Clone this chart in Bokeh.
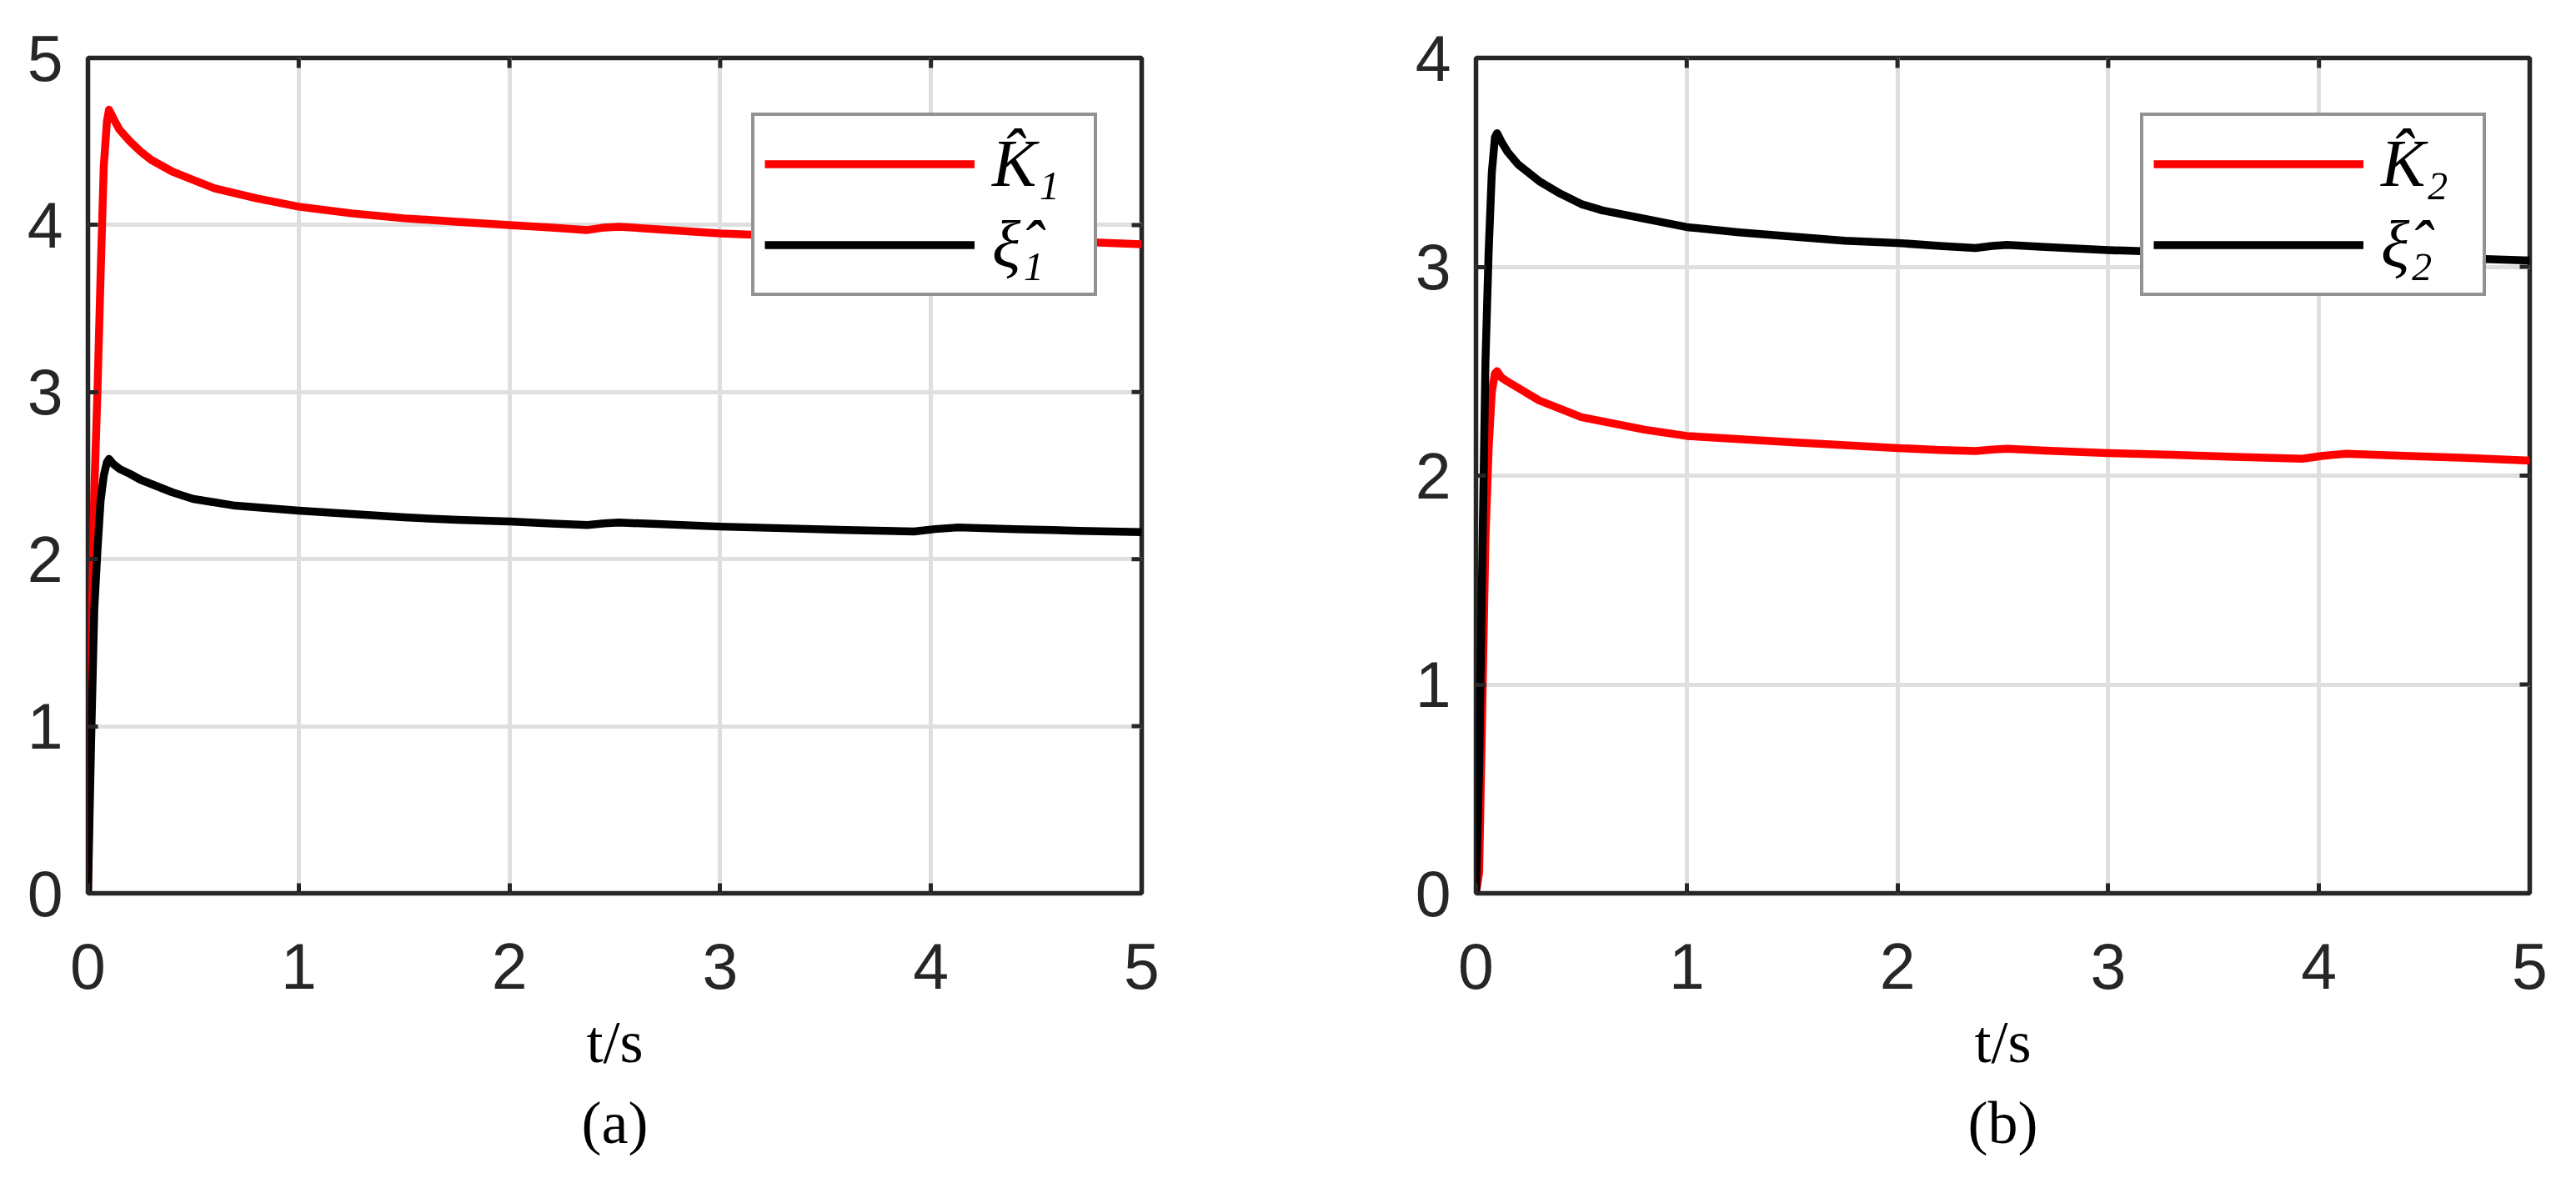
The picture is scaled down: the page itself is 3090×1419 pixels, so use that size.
from bokeh.plotting import figure
from bokeh.models import Range1d, FixedTicker, Legend, LegendItem, Title
from bokeh.layouts import row
from bokeh.embed import file_html
from bokeh.resources import INLINE

# ---- data ----
t = [0, 0.015, 0.03, 0.045, 0.06, 0.075, 0.09, 0.1, 0.12, 0.15, 0.2, 0.25, 0.3,
     0.4, 0.5, 0.6, 0.7, 0.8, 1.0, 1.25, 1.5, 1.75, 2.0, 2.2, 2.37, 2.45, 2.52,
     2.7, 3.0, 3.3, 3.6, 3.92, 4.02, 4.13, 4.4, 4.7, 5.0]

k1_hat = [0, 1.39, 2.4, 3.0, 3.7, 4.35, 4.62, 4.69, 4.64, 4.57, 4.50, 4.44, 4.39,
          4.32, 4.27, 4.22, 4.19, 4.16, 4.11, 4.07, 4.04, 4.02, 4.00, 3.985, 3.97,
          3.985, 3.99, 3.975, 3.95, 3.935, 3.92, 3.905, 3.915, 3.92, 3.91, 3.90, 3.885]

xi1_hat = [0, 0.91, 1.7, 2.05, 2.35, 2.5, 2.58, 2.60, 2.57, 2.54, 2.51, 2.475, 2.45,
           2.40, 2.36, 2.34, 2.32, 2.31, 2.29, 2.27, 2.25, 2.235, 2.225, 2.213, 2.204,
           2.214, 2.219, 2.21, 2.195, 2.185, 2.175, 2.166, 2.18, 2.19, 2.18, 2.17, 2.162]

k2_hat = [0, 0.1, 0.9, 1.7, 2.13, 2.4, 2.49, 2.50, 2.47, 2.45, 2.42, 2.39, 2.36,
          2.32, 2.28, 2.26, 2.24, 2.22, 2.19, 2.175, 2.16, 2.146, 2.132, 2.123, 2.118,
          2.125, 2.129, 2.12, 2.108, 2.10, 2.09, 2.081, 2.095, 2.105, 2.095, 2.085, 2.072]

xi2_hat = [0, 0.6, 1.6, 2.55, 3.07, 3.45, 3.62, 3.64, 3.60, 3.55, 3.49, 3.45, 3.41,
           3.35, 3.30, 3.27, 3.25, 3.23, 3.19, 3.165, 3.145, 3.125, 3.114, 3.10, 3.09,
           3.10, 3.105, 3.095, 3.08, 3.07, 3.06, 3.05, 3.058, 3.062, 3.05, 3.04, 3.03]

x_ticks = [0, 1, 2, 3, 4, 5]
y_ticks_a = [0, 1, 2, 3, 4, 5]
y_ticks_b = [0, 1, 2, 3, 4]

labels_a = ["K\u0302\u2081", "\u03be\u0302\u2081"]
labels_b = ["K\u0302\u2082", "\u03be\u0302\u2082"]

AX = "#262626"
GRID = "#dfdfdf"
RED = "#ff0000"
BLACK = "#000000"

FRAME_W = 1264
FRAME_H = 1002
TICK_LEN = 12  # px, inward


def style_axis(ax):
    ax.axis_line_color = None
    ax.major_tick_line_color = AX
    ax.major_tick_line_width = 5
    ax.major_tick_in = TICK_LEN
    ax.major_tick_out = 0
    ax.minor_tick_line_color = None
    ax.major_label_text_font = "Liberation Sans"
    ax.major_label_text_font_size = "77px"
    ax.major_label_text_color = AX


def make_panel(ymax, yticks, ys, colors, labels, panel_tag, border_left, border_right, leg_loc):
    xmax = x_ticks[-1]
    p = figure(frame_width=FRAME_W, frame_height=FRAME_H,
               x_range=Range1d(x_ticks[0], xmax), y_range=Range1d(0, ymax),
               output_backend="svg", toolbar_location=None,
               min_border_left=border_left, min_border_right=border_right,
               min_border_top=69, min_border_bottom=330,
               background_fill_color="white", border_fill_color="white")
    p.outline_line_color = AX
    p.outline_line_width = 5.5

    p.xaxis.ticker = FixedTicker(ticks=x_ticks)
    p.yaxis.ticker = FixedTicker(ticks=yticks)
    style_axis(p.xaxis[0])
    style_axis(p.yaxis[0])
    p.xaxis.major_label_standoff = 60
    p.yaxis.major_label_standoff = 30
    p.xaxis.axis_label = "t/s"
    p.xaxis.axis_label_text_font = "Liberation Serif"
    p.xaxis.axis_label_text_font_style = "normal"
    p.xaxis.axis_label_text_font_size = "72px"
    p.xaxis.axis_label_text_color = BLACK
    p.xaxis.axis_label_standoff = 21

    p.xgrid.ticker = FixedTicker(ticks=x_ticks)
    p.ygrid.ticker = FixedTicker(ticks=yticks)
    p.grid.grid_line_color = GRID
    p.grid.grid_line_width = 5

    renderers = []
    for y, c in zip(ys, colors):
        r = p.line(t, y, line_color=c, line_width=9.5, line_join="round")
        renderers.append(r)

    # inward ticks on the top and right edges of the box (as in the original)
    dy = TICK_LEN * ymax / FRAME_H
    dx = TICK_LEN * xmax / FRAME_W
    p.segment(x0=x_ticks, y0=[ymax] * len(x_ticks), x1=x_ticks, y1=[ymax - dy] * len(x_ticks),
              line_color=AX, line_width=5)
    p.segment(x0=[xmax] * len(yticks), y0=yticks, x1=[xmax - dx] * len(yticks), y1=yticks,
              line_color=AX, line_width=5)

    items = [LegendItem(label=lab, renderers=[r]) for lab, r in zip(labels, renderers)]
    leg = Legend(items=items, location=leg_loc,
                 border_line_color=AX, border_line_width=4.5,
                 background_fill_color="white", background_fill_alpha=1.0,
                 padding=12, spacing=6, margin=0,
                 glyph_width=252, glyph_height=87, label_standoff=21,
                 label_width=110, label_height=87,
                 label_text_font="Liberation Serif", label_text_font_style="italic",
                 label_text_font_size="80px", label_text_color=BLACK)
    p.add_layout(leg)

    tt = Title(text=panel_tag, align="center", text_font="Liberation Serif",
               text_font_size="72px", text_font_style="normal", text_color=BLACK,
               standoff=25)
    p.add_layout(tt, "below")
    return p


p1 = make_panel(5, y_ticks_a, [k1_hat, xi1_hat], [RED, BLACK], labels_a, "(a)",
                105, 60, (796, 716))
p2 = make_panel(4, y_ticks_b, [k2_hat, xi2_hat], [RED, BLACK], labels_b, "(b)",
                341, 30, (797, 716))

layout = row(p1, p2, spacing=0)
open("out.html", "w").write(file_html(layout, INLINE))
